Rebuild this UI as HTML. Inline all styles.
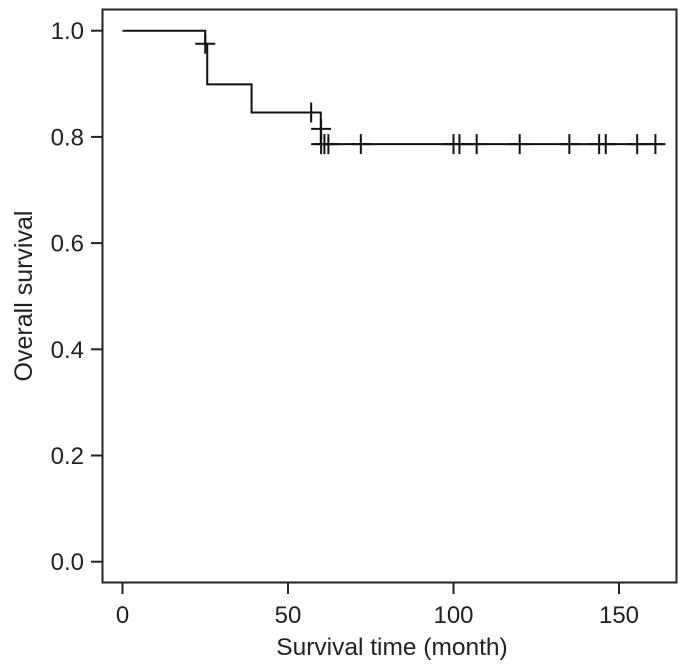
<!DOCTYPE html>
<html><head><meta charset="utf-8"><style>
body{margin:0;background:#fff;}
svg{display:block;font-family:"Liberation Sans",Arial,sans-serif;}
</style></head><body>
<svg id="chart" width="685" height="672">
<rect x="102.5" y="9.5" width="574" height="573" fill="none" stroke="#222" stroke-width="2"/>
<g id="axes"></g><g id="curve"></g>
<text x="392" y="655" text-anchor="middle" font-size="24.5" fill="#222">Survival time (month)</text>
<text transform="translate(32,296) rotate(-90)" text-anchor="middle" font-size="25" fill="#222">Overall survival</text>
</svg>
<script>
const stepTimes=[0,25,25.6,39,59.9,163.5];
const stepSurv=[1,0.9755,0.899,0.846,0.7865];
const censorTimes=[25,57,60,60,61,62.2,72,100,101.8,107,120,135,144,146,155.5,161];
const censorSurv=[0.9755,0.846,0.815,0.7865,0.7865,0.7865,0.7865,0.7865,0.7865,0.7865,0.7865,0.7865,0.7865,0.7865,0.7865,0.7865];
const xTicks=[0,50,100,150];
const yTicks=[0,0.2,0.4,0.6,0.8,1.0];
const NS="http://www.w3.org/2000/svg";
const xs=t=>122.5+t*3.31;
const ys=v=>561.7-v*531;
function mk(tag,attrs,parent){const e=document.createElementNS(NS,tag);for(const k in attrs)e.setAttribute(k,attrs[k]);parent.appendChild(e);return e;}
const ax=document.getElementById('axes');
xTicks.forEach(t=>{
 const l=mk('line',{x1:xs(t),x2:xs(t),y1:583,y2:594,stroke:'#222','stroke-width':2},ax);
 
 
 const tx=mk('text',{x:xs(t),y:623,'text-anchor':'middle','font-size':24,fill:'#222'},ax);
 tx.textContent=t;
 
 
});
yTicks.forEach(v=>{
 const l=mk('line',{x1:91,x2:102,y1:ys(v),y2:ys(v),stroke:'#222','stroke-width':2},ax);
 
 
 const tx=mk('text',{x:84,y:ys(v)+8.5,'text-anchor':'end','font-size':24,fill:'#222'},ax);
 tx.textContent=v.toFixed(1);
 
 
});
const cv=document.getElementById('curve');
let d='M'+xs(stepTimes[0])+','+ys(stepSurv[0]);
for(let i=0;i<stepSurv.length;i++){
 d+=' H'+xs(stepTimes[i+1]);
 if(i+1<stepSurv.length)d+=' V'+ys(stepSurv[i+1]);
}
const p=mk('path',{d:d,fill:'none',stroke:'#111','stroke-width':2},cv);


censorTimes.forEach((t,i)=>{
 const x=xs(t),y=ys(censorSurv[i]);
 const g=mk('path',{d:`M${x},${y-10} V${y+10} M${x-10},${y} H${x+10}`,stroke:'#111','stroke-width':2,fill:'none'},cv);
 
 
});
</script>
</body></html>
